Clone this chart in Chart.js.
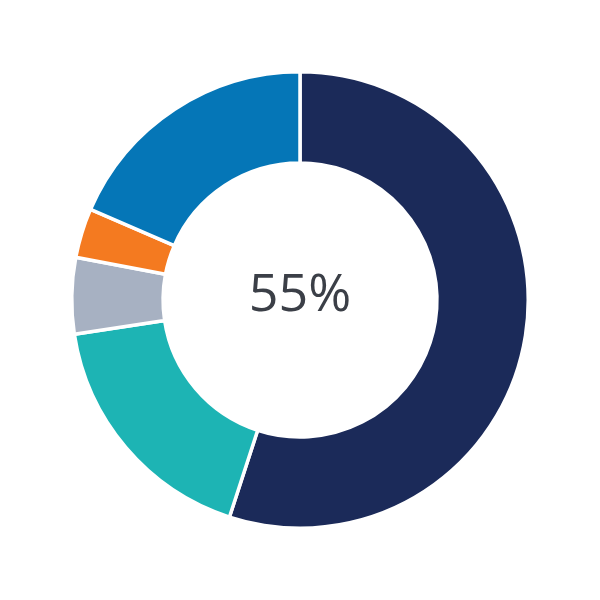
<!DOCTYPE html>
<html>
<head>
<meta charset="utf-8">
<script src="https://cdn.jsdelivr.net/npm/chart.js@4/dist/chart.umd.min.js"></script>
<style>
  html, body { margin: 0; padding: 0; background: #fff; }
  #wrap { width: 600px; height: 600px; }
</style>
</head>
<body>
<div id="wrap"><canvas id="grafico"></canvas></div>
<script>
// datos del gráfico
const categorias = ['Segmento A', 'Segmento B', 'Segmento C', 'Segmento D', 'Segmento E'];
const valores = [55, 17.6, 5.4, 3.5, 18.5];
const colores = ['#1b2a59', '#1db4b4', '#a7b1c2', '#f47a20', '#0576b7'];
const textoCentro = '55%';

// texto en el centro del anillo
const textoCentral = {
  id: 'textoCentral',
  afterDraw(chart) {
    const { ctx } = chart;
    const arc = chart.getDatasetMeta(0).data[0];
    ctx.save();
    ctx.font = '52px "Open Sans"';
    ctx.fillStyle = '#3b3f47';
    ctx.textAlign = 'center';
    ctx.textBaseline = 'middle';
    ctx.fillText(textoCentro, arc.x, arc.y - 4);
    ctx.restore();
  }
};

function dibujar() {
  new Chart(document.getElementById('grafico'), {
    type: 'doughnut',
    data: {
      labels: categorias,
      datasets: [{
        data: valores,
        backgroundColor: colores,
        borderColor: '#ffffff',
        borderWidth: 3.5,
      }],
    },
    options: {
      responsive: true,
      maintainAspectRatio: false,
      animation: false,
      cutout: '60%',
      layout: { padding: 70 },
      plugins: { legend: { display: false }, tooltip: { enabled: false } },
    },
    plugins: [textoCentral],
  });
}

// esperar la fuente antes de dibujar
document.fonts.load('52px "Open Sans"').then(dibujar, dibujar);
</script>
</body>
</html>
